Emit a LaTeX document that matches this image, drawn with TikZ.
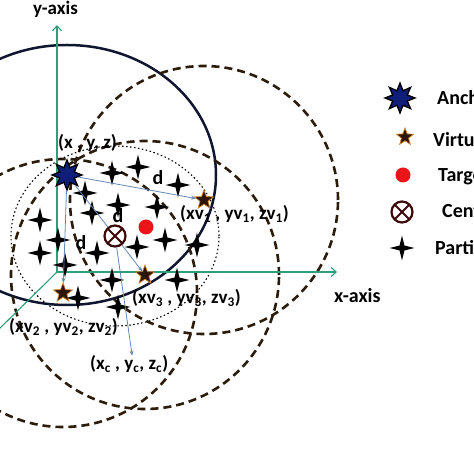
\documentclass[tikz,border=0pt]{standalone}
\usepackage{fontspec}
\setmainfont{Carlito}
\usepackage{tikz}
\usetikzlibrary{arrows.meta, shapes.geometric}
\definecolor{axisgreen}{RGB}{46,160,120}
\definecolor{linkblue}{RGB}{100,135,180}
\definecolor{rangebrown}{RGB}{43,28,12}
\definecolor{ringnavy}{RGB}{16,22,48}
\definecolor{anchornavy}{RGB}{15,30,120}
\definecolor{virtualfill}{RGB}{45,20,5}
\definecolor{virtualedge}{RGB}{205,130,40}
\definecolor{targetred}{RGB}{235,20,25}
\definecolor{centroidred}{RGB}{60,10,10}

\begin{document}
\begin{tikzpicture}[x=1pt, y=1pt,
    anchornode/.style={star, star points=8, star point ratio=1.9, minimum size=30pt, inner sep=0pt, fill=anchornavy, draw=black, line width=1.3pt},
    virtualnode/.style={star, star points=5, star point ratio=2.4, minimum size=20pt, inner sep=0pt, fill=virtualfill, draw=virtualedge, line width=0.7pt},
    particle/.style={star, star points=4, star point ratio=3.6, minimum size=25pt, inner sep=0pt, fill=black},
    targetnode/.style={circle, fill=targetred, minimum size=15pt, inner sep=0pt},
    centroidnode/.style={circle, fill=white, draw=centroidred, line width=2.2pt, minimum size=21pt, inner sep=0pt,
        path picture={\draw[centroidred, line width=2pt] (path picture bounding box.south west) -- (path picture bounding box.north east)
            (path picture bounding box.north west) -- (path picture bounding box.south east);}},
    rangecircle/.style={rangebrown, line width=2.6pt, dash pattern=on 8pt off 5pt},
    axisline/.style={axisgreen, line width=1.1pt, -{Straight Barb[length=5pt, width=9pt]}},
    linkarrow/.style={linkblue, line width=0.8pt, -{Stealth[length=5pt, width=4pt]}},
    coordlabel/.style={font=\fontsize{19}{21}\selectfont\bfseries, inner sep=0pt, anchor=base west},
    dlabel/.style={font=\fontsize{20}{22}\selectfont\bfseries, inner sep=0pt, anchor=base},
    biglabel/.style={font=\fontsize{20}{23}\selectfont\bfseries, inner sep=0pt, anchor=base west}]
    \useasboundingbox (0,0) rectangle (474,474);
    \clip (0,0) rectangle (474,474);
    % Positions
    \coordinate (origin) at (57,202);
    \coordinate (anchorpos) at (67,299);
    \coordinate (v1pos) at (204,274);
    \coordinate (v2pos) at (63,181);
    \coordinate (v3pos) at (145,199);
    \coordinate (centroidpos) at (115,238);
    % Range circles
    \draw[ringnavy, line width=2.5pt] (anchorpos) ellipse (149pt and 130pt);
    \draw[rangecircle] (v1pos) circle (134pt);
    \draw[rangecircle] (v2pos) circle (134pt);
    \draw[rangecircle] (v3pos) circle (134pt);
    \draw[black, line width=1.1pt, dash pattern=on 1.5pt off 2.5pt] (centroidpos) ellipse (104pt and 90pt);
    % Axes
    \coordinate (yend) at (57,449);
    \coordinate (xend) at (337,202);
    \coordinate (zend) at (-8,138);
    \draw[axisline] (origin) -- (yend);
    \draw[axisline] (origin) -- (xend);
    \draw[axisgreen, line width=1.1pt] (origin) -- (zend);
    \node[biglabel, font=\fontsize{19}{22}\selectfont\bfseries] (ylabel) at (33,459) {y-axis};
    \node[biglabel] (xlabel) at (334,171) {x-axis};
    % Particles
    \foreach \px/\py [count=\i] in {112/301, 138/307, 178/289, 85/281, 118/269, 157/267, 92/261, 40/254,
        58/234, 40/221, 97/221, 137/227, 165/234, 197/229, 65/209, 112/194, 177/194, 78/176, 118/167}
        \node[particle] (p\i) at (\px,\py) {};
    % Target and centroid
    \node[targetnode] (target) at (146,247) {};
    \node[centroidnode] (centroid) at (centroidpos) {};
    % Anchor and virtual anchors
    \node[virtualnode] (v1) at (v1pos) {};
    \node[virtualnode] (v2) at (v2pos) {};
    \node[virtualnode] (v3) at (v3pos) {};
    \node[anchornode] (anchor) at (anchorpos) {};
    % Distances
    \draw[linkarrow] (anchor) -- (v1);
    \draw[linkarrow] (anchor) -- (v2);
    \draw[linkblue, line width=0.8pt] (anchor) -- (centroid);
    \draw[linkarrow] (centroid) -- (v3);
    \node[dlabel] (d1) at (158,289) {d};
    \node[dlabel] (d2) at (118,251) {d};
    \node[dlabel] (d3) at (81,224) {d};
    % Coordinates
    \node[coordlabel] (anchorlabel) at (58,325) {(x , y, z)};
    \node[coordlabel] (v1label) at (180,254) {(xv\textsubscript{1} , yv\textsubscript{1}, zv\textsubscript{1})};
    \node[coordlabel] (v2label) at (9,141) {(xv\textsubscript{2} , yv\textsubscript{2}, zv\textsubscript{2})};
    \node[coordlabel] (v3label) at (132,170) {(xv\textsubscript{3} , yv\textsubscript{3}, zv\textsubscript{3})};
    \node[coordlabel] (clabel) at (90,104) {(x\textsubscript{c} , y\textsubscript{c}, z\textsubscript{c})};
    \draw[linkarrow] (centroid) -- ([xshift=3pt]clabel.north);
    % Legend
    \node[anchornode] (keyanchor) at (400,376) {};
    \node[virtualnode, minimum size=18pt] (keyvirtual) at (405,337) {};
    \node[targetnode] (keytarget) at (403,299) {};
    \node[centroidnode] (keycentroid) at (402,262) {};
    \node[particle] (keyparticle) at (402,226) {};
    \node[biglabel] (keyanchortext) at (437,369) {Anchor};
    \node[biglabel] (keyvirtualtext) at (433,327) {Virtual};
    \node[biglabel] (keytargettext) at (438,292) {Target};
    \node[biglabel] (keycentroidtext) at (442,256) {Center};
    \node[biglabel] (keyparticletext) at (435,219) {Particles};
\end{tikzpicture}
\end{document}
